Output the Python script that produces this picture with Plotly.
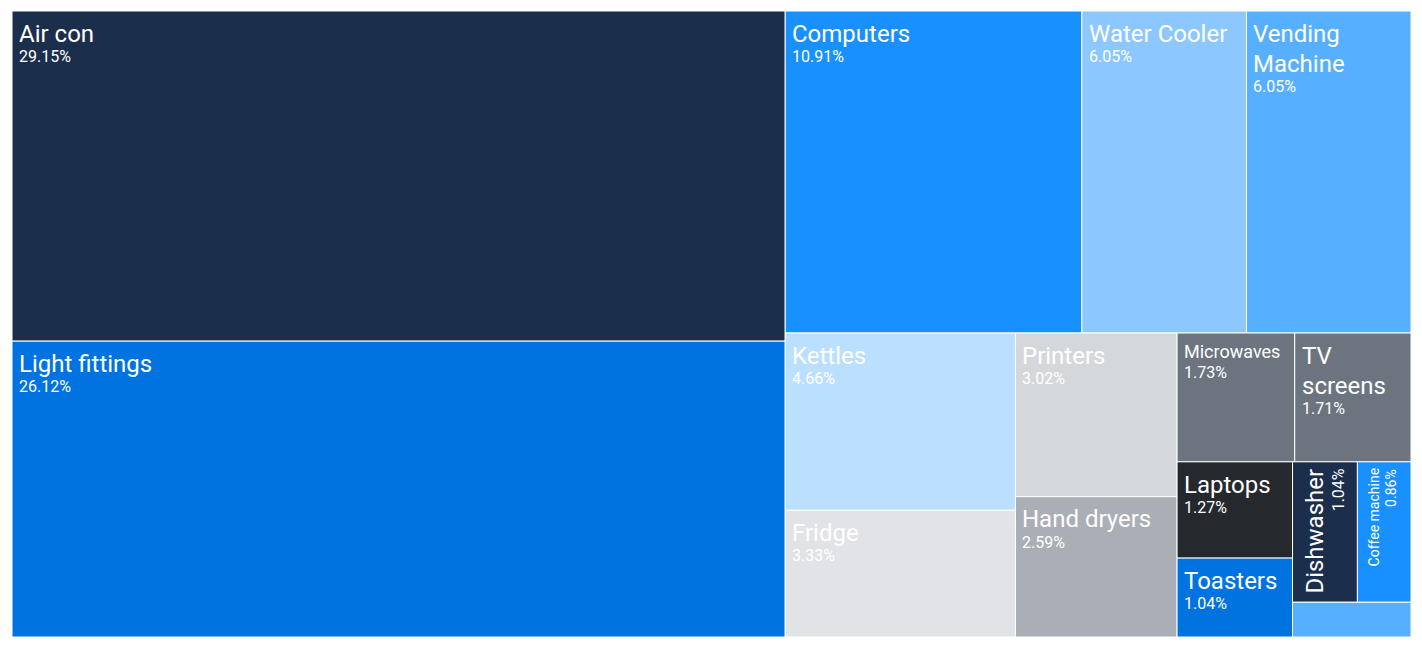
import plotly.graph_objects as go

# share of office energy use, %
labels = ["Air con", "Light fittings", "Computers", "Water Cooler", "Vending Machine",
          "Kettles", "Fridge", "Printers", "Hand dryers", "Microwaves", "TV screens",
          "Laptops", "Toasters", "Dishwasher", "Coffee machine", "Other"]
values = [29.15, 26.12, 10.91, 6.05, 6.05, 4.66, 3.33, 3.02, 2.59, 1.73, 1.71,
          1.27, 1.04, 1.04, 0.86, 0.47]
colors = ["#1b2e4b", "#0073e0", "#1890ff", "#8cc8ff", "#57b0ff", "#bbdfff", "#e1e3e6",
          "#d5d8db", "#a9afb5", "#6c757f", "#6c757f", "#25292e", "#0073e0", "#1b2e4b",
          "#1890ff", "#57b0ff"]

W, H = 1399, 626          # plot area in px, used as axis units
PHI = (1 + 5 ** 0.5) / 2
PAD = 7
LABEL_SIZES = [24, 18, 14, 12, 10]

# rough Roboto advance widths (em) for measuring labels
CHAR_W = {" ": .248, ".": .263, "%": .733, "A": .652, "C": .650, "D": .655, "F": .566,
          "H": .714, "K": .628, "L": .538, "M": .872, "P": .631, "T": .610, "V": .636,
          "W": .888, "a": .544, "b": .561, "c": .523, "d": .564, "e": .529, "f": .347,
          "g": .561, "h": .551, "i": .243, "k": .507, "l": .243, "m": .876, "n": .552,
          "o": .570, "p": .561, "r": .338, "s": .515, "t": .327, "u": .551, "v": .484,
          "w": .751, "y": .473}


def text_w(s, size):
    return size * sum(CHAR_W.get(ch, .562 if ch.isdigit() else .55) for ch in s)


# d3-style squarified tiling (golden ratio)
def squarify(vals, x0, y0, x1, y1, ratio=PHI):
    rects = [None] * len(vals)
    value = sum(vals)
    i0, n = 0, len(vals)
    while i0 < n:
        dx, dy = x1 - x0, y1 - y0
        sum_v = min_v = max_v = vals[i0]
        alpha = max(dy / dx, dx / dy) / (value * ratio)
        beta = sum_v * sum_v * alpha
        min_ratio = max(max_v / beta, beta / min_v)
        i1 = i0 + 1
        while i1 < n:
            v = vals[i1]
            s = sum_v + v
            mn, mx = min(min_v, v), max(max_v, v)
            beta = s * s * alpha
            new_ratio = max(mx / beta, beta / mn)
            if new_ratio > min_ratio:
                break
            min_ratio, sum_v, min_v, max_v = new_ratio, s, mn, mx
            i1 += 1
        if dx < dy:
            y_next = y0 + dy * sum_v / value
            xx = x0
            for i in range(i0, i1):
                w = dx * vals[i] / sum_v
                rects[i] = (xx, y0, xx + w, y_next)
                xx += w
            y0 = y_next
        else:
            x_next = x0 + dx * sum_v / value
            yy = y0
            for i in range(i0, i1):
                h = dy * vals[i] / sum_v
                rects[i] = (x0, yy, x_next, yy + h)
                yy += h
            x0 = x_next
        value -= sum_v
        i0 = i1
    return rects


def wrap(words, size, avail):
    lines, cur = [], ""
    for wd in words:
        test = (cur + " " + wd).strip()
        if cur and text_w(test, size) > avail:
            lines.append(cur)
            cur = wd
        else:
            cur = test
    lines.append(cur)
    return lines


def fit_label(label, val_text, length, thick):
    # biggest size whose wrapped label + value fits the box
    for size in LABEL_SIZES:
        vsize = min(16, size)
        lines = wrap(label.split(), size, length)
        if max(text_w(l, size) for l in lines) > length:
            continue
        if text_w(val_text, vsize) > length:
            continue
        if len(lines) * 1.25 * size + 1.25 * vsize > thick:
            continue
        return size, vsize, lines
    return None


rects = squarify(values, 0, 0, W, H)

fig = go.Figure()
annotations = []
for lab, val, col, (x0, y0, x1, y1) in zip(labels, values, colors, rects):
    fig.add_trace(go.Scatter(
        x=[x0, x1, x1, x0, x0], y=[y0, y0, y1, y1, y0],
        mode="lines", fill="toself", fillcolor=col,
        line=dict(color="white", width=1),
        hoveron="fills", name=lab, text=f"{lab}: {val:.2f}%", hoverinfo="text",
        showlegend=False,
    ))

    w, h = x1 - x0, y1 - y0
    vtxt = f"{val:.2f}%"
    flat = fit_label(lab, vtxt, w - 2 * PAD, h - 2 * PAD)
    rot = fit_label(lab, vtxt, h - 2 * PAD, w - 2 * PAD)
    use_rot = rot is not None and (flat is None or rot[0] > flat[0])
    fit = rot if use_rot else flat
    if fit is None:
        continue
    size, vsize, lines = fit
    items = [(l, size) for l in lines] + [(vtxt, vsize)]

    base = PAD + size
    for k, (txt, fs) in enumerate(items):
        if k > 0:
            base += 1.25 * fs
        mid = base - 0.342 * fs
        if use_rot:
            annotations.append(dict(
                x=x0 + mid, y=y0 + PAD, text=txt, textangle=-90,
                xanchor="center", yanchor="top",
            ))
        else:
            annotations.append(dict(
                x=x0 + PAD, y=y0 + mid, text=txt,
                xanchor="left", yanchor="middle",
            ))
        annotations[-1].update(
            xref="x", yref="y", showarrow=False, borderpad=0, borderwidth=0,
            font=dict(family="Roboto", size=fs, color="white"),
        )

# page body adds an 8px offset, so the figure is a bit smaller than the window
fig.update_layout(
    width=1414, height=639,
    margin=dict(l=4, r=11, t=3, b=10),
    paper_bgcolor="white", plot_bgcolor="white",
    xaxis=dict(range=[0, W], visible=False, fixedrange=True),
    yaxis=dict(range=[H, 0], visible=False, fixedrange=True),
    annotations=annotations,
    font=dict(family="Roboto"),
    hovermode="closest",
)

fig.write_html("out.html")
